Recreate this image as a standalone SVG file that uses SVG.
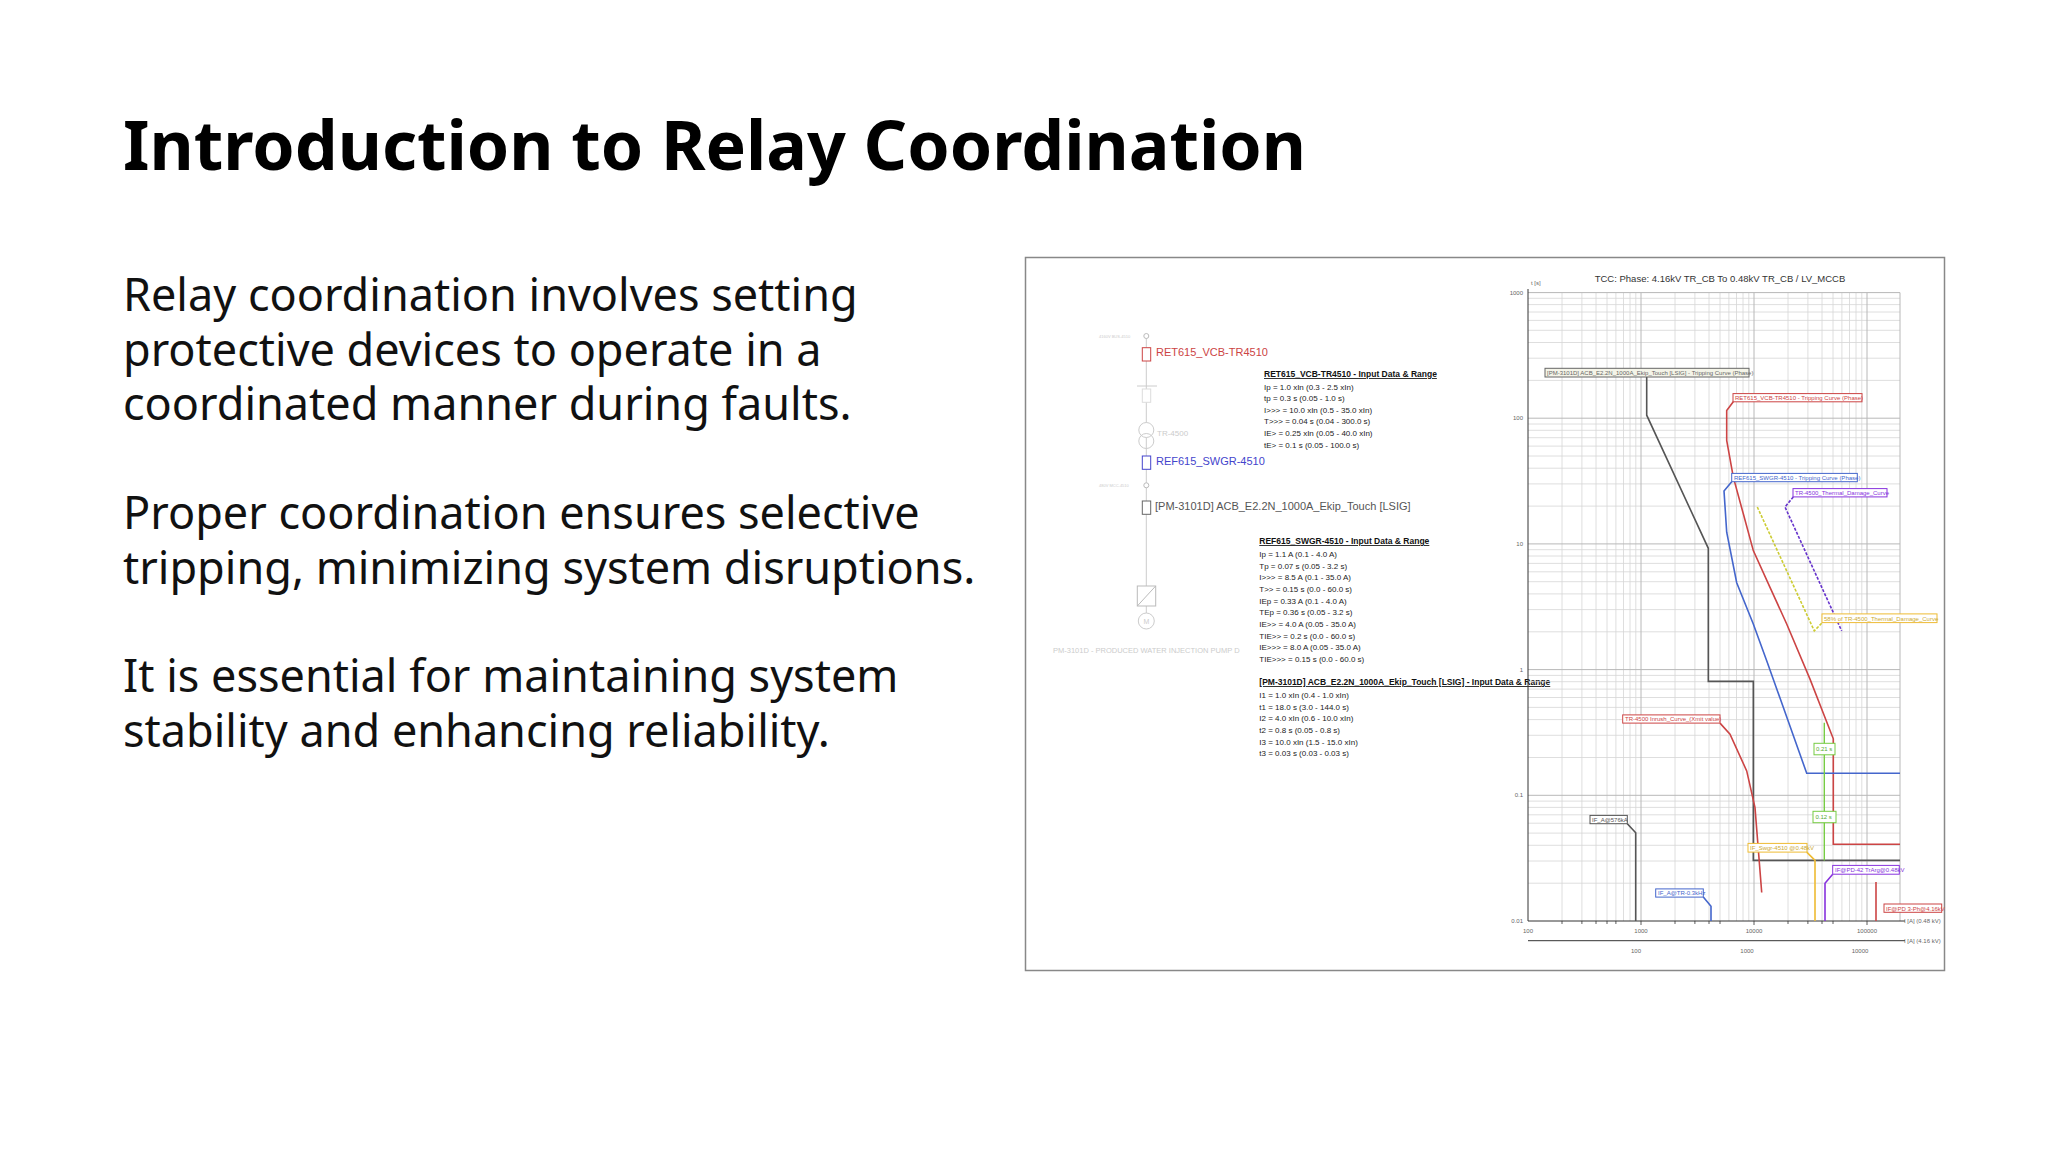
<svg xmlns="http://www.w3.org/2000/svg" width="2048" height="1152" viewBox="0 0 2048 1152">
<style>
.title{font-family:"Noto Sans","Open Sans",sans-serif;font-weight:700;font-size:68px;fill:#000}
.body{font-family:"Noto Sans","Open Sans",sans-serif;font-size:45px;fill:#111}
.sm{font-family:"Liberation Sans",Arial,sans-serif;font-size:8px;fill:#222}
.smb{font-family:"Liberation Sans",Arial,sans-serif;font-size:8.5px;font-weight:700;fill:#111;text-decoration:underline}
.sld{font-family:"Liberation Sans",Arial,sans-serif;font-size:11px}
.ax{font-family:"Liberation Sans",Arial,sans-serif;font-size:6px;fill:#666}
.lab{font-family:"Liberation Sans",Arial,sans-serif;font-size:6px}
.minor{stroke:#d6d6d6;stroke-width:0.8;fill:none}
.major{stroke:#b8b8b8;stroke-width:1;fill:none}
.c{fill:none;stroke-width:1.6}
</style>
<rect width="2048" height="1152" fill="#fff"/>
<text class="title" x="123" y="170">Introduction to Relay Coordination</text>
<g id="text">
<text class="body" x="123" y="311">Relay coordination involves setting</text>
<text class="body" x="123" y="366">protective devices to operate in a</text>
<text class="body" x="123" y="420">coordinated manner during faults.</text>
<text class="body" x="123" y="529">Proper coordination ensures selective</text>
<text class="body" x="123" y="584">tripping, minimizing system disruptions.</text>
<text class="body" x="123" y="692">It is essential for maintaining system</text>
<text class="body" x="123" y="747">stability and enhancing reliability.</text>
</g>
<g id="figure">
<rect x="1025.5" y="257.5" width="919" height="713" fill="#fff" stroke="#888" stroke-width="1.5"/>
<g id="sld">
<line x1="1146.3" y1="336" x2="1146.3" y2="613" stroke="#ccc" stroke-width="1"/>
<circle cx="1146.3" cy="336" r="2.5" fill="#fff" stroke="#bbb"/>
<text x="1099" y="338" style="font-family:'Liberation Sans',sans-serif;fill:#ccc;font-size:4px">4160V BUS-4510</text>
<rect x="1142.3" y="347.7" width="8.4" height="13.3" fill="#fff" stroke="#c44"/>
<text class="sld" x="1156" y="356" fill="#c44">RET615_VCB-TR4510</text>
<line x1="1137" y1="386" x2="1157" y2="386" stroke="#ccc"/>
<rect x="1142.3" y="389" width="8.4" height="13.3" fill="#fff" stroke="#ddd"/>
<circle cx="1146.3" cy="430" r="7.5" fill="#fff" stroke="#ccc"/>
<circle cx="1146.3" cy="441" r="7.5" fill="none" stroke="#ccc"/>
<text class="sld" x="1157" y="436" style="fill:#ccc;font-size:8px">TR-4500</text>
<rect x="1142.3" y="456" width="8.4" height="13.3" fill="#fff" stroke="#44c"/>
<text class="sld" x="1156" y="465" fill="#44c">REF615_SWGR-4510</text>
<circle cx="1146.3" cy="485.3" r="2.5" fill="#fff" stroke="#bbb"/>
<text x="1099" y="487" style="font-family:'Liberation Sans',sans-serif;fill:#ccc;font-size:4px">480V MCC-4510</text>
<rect x="1142.3" y="501" width="8.4" height="13.3" fill="#fff" stroke="#666"/>
<text class="sld" x="1155" y="510" fill="#555">[PM-3101D] ACB_E2.2N_1000A_Ekip_Touch [LSIG]</text>
<rect x="1137.3" y="586" width="18.4" height="20" fill="#fff" stroke="#bbb"/>
<line x1="1137.3" y1="606" x2="1155.7" y2="586" stroke="#bbb"/>
<circle cx="1146.3" cy="621" r="8" fill="#fff" stroke="#ccc"/>
<text x="1146.3" y="624" text-anchor="middle" style="font-family:'Liberation Sans',sans-serif;font-size:7px;fill:#ccc">M</text>
<text class="sld" x="1053" y="653" style="fill:#ccc;font-size:7.5px">PM-3101D - PRODUCED WATER INJECTION PUMP D</text>
</g>
<g id="tables">
<text class="smb" x="1264" y="377">RET615_VCB-TR4510 - Input Data &amp; Range</text>
<text class="sm" x="1264" y="389.5">Ip = 1.0 xIn (0.3 - 2.5 xIn)</text>
<text class="sm" x="1264" y="401">tp = 0.3 s (0.05 - 1.0 s)</text>
<text class="sm" x="1264" y="412.7">I&gt;&gt;&gt; = 10.0 xIn (0.5 - 35.0 xIn)</text>
<text class="sm" x="1264" y="424.3">T&gt;&gt;&gt; = 0.04 s (0.04 - 300.0 s)</text>
<text class="sm" x="1264" y="436">IE&gt; = 0.25 xIn (0.05 - 40.0 xIn)</text>
<text class="sm" x="1264" y="447.7">tE&gt; = 0.1 s (0.05 - 100.0 s)</text>
<text class="smb" x="1259.3" y="544">REF615_SWGR-4510 - Input Data &amp; Range</text>
<text class="sm" x="1259.3" y="557">Ip = 1.1 A (0.1 - 4.0 A)</text>
<text class="sm" x="1259.3" y="568.7">Tp = 0.07 s (0.05 - 3.2 s)</text>
<text class="sm" x="1259.3" y="580.3">I&gt;&gt;&gt; = 8.5 A (0.1 - 35.0 A)</text>
<text class="sm" x="1259.3" y="592">T&gt;&gt; = 0.15 s (0.0 - 60.0 s)</text>
<text class="sm" x="1259.3" y="603.7">IEp = 0.33 A (0.1 - 4.0 A)</text>
<text class="sm" x="1259.3" y="615.3">TEp = 0.36 s (0.05 - 3.2 s)</text>
<text class="sm" x="1259.3" y="627">IE&gt;&gt; = 4.0 A (0.05 - 35.0 A)</text>
<text class="sm" x="1259.3" y="638.7">TIE&gt;&gt; = 0.2 s (0.0 - 60.0 s)</text>
<text class="sm" x="1259.3" y="650.3">IE&gt;&gt;&gt; = 8.0 A (0.05 - 35.0 A)</text>
<text class="sm" x="1259.3" y="662">TIE&gt;&gt;&gt; = 0.15 s (0.0 - 60.0 s)</text>
<text class="smb" x="1259.3" y="685">[PM-3101D] ACB_E2.2N_1000A_Ekip_Touch [LSIG] - Input Data &amp; Range</text>
<text class="sm" x="1259.3" y="698">I1 = 1.0 xIn (0.4 - 1.0 xIn)</text>
<text class="sm" x="1259.3" y="709.7">t1 = 18.0 s (3.0 - 144.0 s)</text>
<text class="sm" x="1259.3" y="721.3">I2 = 4.0 xIn (0.6 - 10.0 xIn)</text>
<text class="sm" x="1259.3" y="733">t2 = 0.8 s (0.05 - 0.8 s)</text>
<text class="sm" x="1259.3" y="744.7">I3 = 10.0 xIn (1.5 - 15.0 xIn)</text>
<text class="sm" x="1259.3" y="756.3">t3 = 0.03 s (0.03 - 0.03 s)</text>
</g>
<g id="chart">
<text x="1720" y="282" text-anchor="middle" style="font-family:'Liberation Sans',sans-serif;font-size:9.5px;fill:#333">TCC: Phase: 4.16kV TR_CB To 0.48kV TR_CB / LV_MCCB</text>
<path class="minor" d="M1562 292.6V921M1581.9 292.6V921M1596 292.6V921M1607 292.6V921M1615.9 292.6V921M1623.5 292.6V921M1630 292.6V921M1635.8 292.6V921M1675 292.6V921M1694.9 292.6V921M1709 292.6V921M1720 292.6V921M1728.9 292.6V921M1736.5 292.6V921M1743 292.6V921M1748.8 292.6V921M1788 292.6V921M1807.9 292.6V921M1822 292.6V921M1833 292.6V921M1841.9 292.6V921M1849.5 292.6V921M1856 292.6V921M1861.8 292.6V921
M1528 883.2H1900M1528 861H1900M1528 845.3H1900M1528 833.1H1900M1528 823.2H1900M1528 814.8H1900M1528 807.4H1900M1528 801.1H1900
M1528 757.5H1900M1528 735.3H1900M1528 719.6H1900M1528 707.4H1900M1528 697.5H1900M1528 689.1H1900M1528 681.7H1900M1528 675.4H1900
M1528 631.8H1900M1528 609.6H1900M1528 593.9H1900M1528 581.7H1900M1528 571.8H1900M1528 563.4H1900M1528 556H1900M1528 549.7H1900
M1528 506.1H1900M1528 483.9H1900M1528 468.2H1900M1528 456H1900M1528 446.1H1900M1528 437.7H1900M1528 430.3H1900M1528 424H1900
M1528 380.4H1900M1528 358.2H1900M1528 342.5H1900M1528 330.3H1900M1528 320.4H1900M1528 312H1900M1528 304.6H1900M1528 298.3H1900"/>
<path class="major" d="M1641 292.6V921M1754 292.6V921M1867 292.6V921M1900 292.6V921M1528 795.3H1900M1528 669.6H1900M1528 543.9H1900M1528 418.2H1900M1528 292.6H1900"/>
<path d="M1528 289V921H1905M1528 940.7H1905" fill="none" stroke="#333" stroke-width="1"/>
<path d="M1562 921v3M1581.9 921v3M1596 921v3M1607 921v3M1615.9 921v3M1641 921v4M1675 921v3M1694.9 921v3M1709 921v3M1720 921v3M1754 921v4M1788 921v3M1807.9 921v3M1822 921v3M1833 921v3M1867 921v4" stroke="#333" stroke-width="0.8"/>
<text class="ax" x="1523" y="295" text-anchor="end">1000</text>
<text class="ax" x="1523" y="420" text-anchor="end">100</text>
<text class="ax" x="1523" y="546" text-anchor="end">10</text>
<text class="ax" x="1523" y="672" text-anchor="end">1</text>
<text class="ax" x="1523" y="797" text-anchor="end">0.1</text>
<text class="ax" x="1523" y="923" text-anchor="end">0.01</text>
<text class="ax" x="1531" y="285">t [s]</text>
<text class="ax" x="1528" y="933" text-anchor="middle">100</text>
<text class="ax" x="1641" y="933" text-anchor="middle">1000</text>
<text class="ax" x="1754" y="933" text-anchor="middle">10000</text>
<text class="ax" x="1867" y="933" text-anchor="middle">100000</text>
<text class="ax" x="1636" y="953" text-anchor="middle">100</text>
<text class="ax" x="1747" y="953" text-anchor="middle">1000</text>
<text class="ax" x="1860" y="953" text-anchor="middle">10000</text>
<text class="ax" x="1904" y="923">I [A] (0.48 kV)</text>
<text class="ax" x="1904" y="943">I [A] (4.16 kV)</text>
</g>
<g id="curves">
<polyline class="c" stroke="#555" points="1646.7,377 1646.7,415.2 1708.3,548.3 1708.3,681.4 1753.3,681.4 1753.3,860.4 1900,860.4"/>
<polyline class="c" stroke="#c44" points="1733.3,401.8 1726.7,410.6 1726.7,440.4 1733.3,477.1 1743.3,513.8 1753.3,550.6 1770,587.3 1786.7,624 1810,679.1 1833.3,738.8 1833.3,844.3 1900,844.3"/>
<polyline class="c" stroke="#46c" points="1731.7,481.7 1724,490.9 1726.7,532.2 1736.7,582.7 1753.3,624 1766.7,660.7 1806.7,773.2 1900,773.2"/>
<polyline class="c" stroke="#63c" stroke-dasharray="3,1.5" points="1793.3,496.9 1785,507 1841.7,630.9"/>
<polyline class="c" stroke="#cc3" stroke-dasharray="3,1.5" points="1757.3,507 1814.3,630.9 1822.3,622.6"/>
<polyline class="c" stroke="#c44" points="1720,723.1 1730,734.2 1746.7,770.9 1755,807.6 1761.7,892.5"/>
<line x1="1824.3" y1="722.7" x2="1824.3" y2="860.4" stroke="#7c4" stroke-width="1.4"/>
<polyline class="c" stroke="#eb3" points="1806.7,852.1 1815,860.4 1815,921"/>
<polyline class="c" stroke="#83d" points="1832.7,874.2 1825,883.3 1825,921"/>
<line x1="1876" y1="882" x2="1876" y2="921" stroke="#c44" stroke-width="1.6"/>
<polyline class="c" stroke="#555" points="1627.3,823.7 1635.7,832.8 1635.7,921"/>
<polyline class="c" stroke="#46c" points="1703.3,897.1 1711,906.3 1711,921"/>
</g>
<g id="labels">
<rect x="1545" y="368.3" width="204" height="8.7" fill="#f4f4e8" stroke="#666"/>
<text class="lab" x="1547" y="375" fill="#666">[PM-3101D] ACB_E2.2N_1000A_Ekip_Touch [LSIG] - Tripping Curve (Phase)</text>
<rect x="1733" y="393.6" width="129" height="8.2" fill="#fff" stroke="#c44"/>
<text class="lab" x="1735" y="400" fill="#c44">RET615_VCB-TR4510 - Tripping Curve (Phase)</text>
<rect x="1731.7" y="473.4" width="125.6" height="8.3" fill="#fff" stroke="#46c"/>
<text class="lab" x="1734" y="480" fill="#46c">REF615_SWGR-4510 - Tripping Curve (Phase)</text>
<rect x="1793" y="488.6" width="94" height="8.3" fill="#fff" stroke="#83d"/>
<text class="lab" x="1795" y="495" fill="#83d">TR-4500_Thermal_Damage_Curve</text>
<rect x="1822" y="613.9" width="115" height="8.7" fill="#fff" stroke="#eb3"/>
<text class="lab" x="1824" y="620.5" fill="#ca3">58% of TR-4500_Thermal_Damage_Curve</text>
<rect x="1622.7" y="714.9" width="97.3" height="8.2" fill="#fff" stroke="#c44"/>
<text class="lab" x="1625" y="721.3" fill="#c44">TR-4500 Inrush_Curve_(Xmit value)</text>
<rect x="1814" y="743.3" width="21" height="11.5" fill="#fff" stroke="#7c4"/>
<text class="lab" x="1816" y="751" fill="#5a3">0.21 s</text>
<rect x="1813" y="811.3" width="23" height="11.4" fill="#fff" stroke="#7c4"/>
<text class="lab" x="1815.5" y="819" fill="#5a3">0.12 s</text>
<rect x="1748" y="843.4" width="59" height="8.7" fill="#fff" stroke="#eb3"/>
<text class="lab" x="1750" y="850" fill="#ca3">IF_Swgr-4510 @0.48kV</text>
<rect x="1832.7" y="865.4" width="66.6" height="8.8" fill="#fff" stroke="#83d"/>
<text class="lab" x="1835" y="872" fill="#83d">IF@PD-42 TrArg@0.48kV</text>
<rect x="1884" y="904" width="57.7" height="8.3" fill="#fff" stroke="#c44"/>
<text class="lab" x="1886" y="910.5" fill="#c44">IF@PD 3-Ph@4.16kV</text>
<rect x="1590" y="815.4" width="37.3" height="8.3" fill="#fff" stroke="#555"/>
<text class="lab" x="1592" y="821.8" fill="#555">IF_A@576kA</text>
<rect x="1655.7" y="888.9" width="47.6" height="8.2" fill="#fff" stroke="#46c"/>
<text class="lab" x="1658" y="895.3" fill="#46c">IF_A@TR-0.3kHz</text>
</g>
</g>
</svg>
